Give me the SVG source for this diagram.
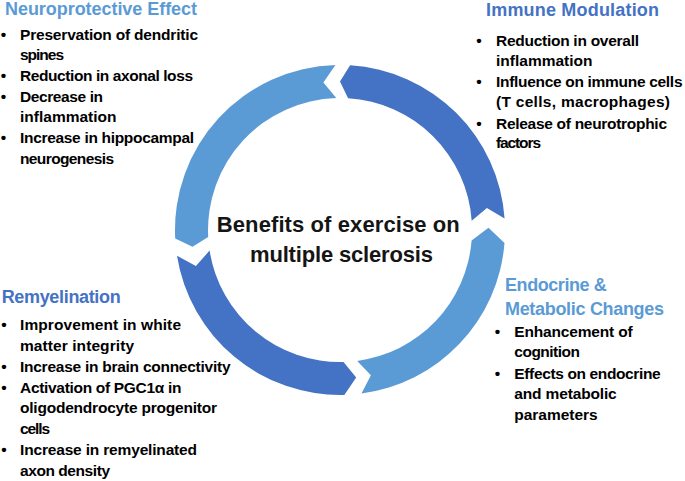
<svg xmlns="http://www.w3.org/2000/svg" width="685" height="481" viewBox="0 0 685 481">
<style>
  .dark { fill: #4472C4; }
  .light { fill: #5B9BD5; }
  .hd { font-family: "Liberation Sans", Arial, sans-serif; font-weight: bold; font-size: 18px; }
  .hl { fill: #5B9BD5; }
  .hk { fill: #4472C4; }
  .bt { font-family: "Liberation Sans", Arial, sans-serif; font-weight: bold; font-size: 15.5px; fill: #000; }
  .ct { font-family: "Liberation Sans", Arial, sans-serif; font-weight: bold; font-size: 22px; fill: #151515; text-anchor: middle; }
</style>
<rect width="685" height="481" fill="#fff"/>
<g id="connectors">
  <path class="dark" d="M504.6,218.5 A165,165 0 0 0 350.1,65.3 L340,81.5 L348.1,98.2 A132,132 0 0 1 471.7,220.8 L486.9,208.1 Z"/>
  <path class="light" d="M361.5,393.6 A165,165 0 0 0 504.5,243.0 L488.5,227.7 L471.6,240.4 A132,132 0 0 1 357.2,360.9 L370.9,375.3 Z"/>
  <path class="dark" d="M177.0,255.8 A165,165 0 0 0 344.3,394.9 L356.2,377.6 L343.5,362.0 A132,132 0 0 1 209.6,250.6 L195.9,265.9 Z"/>
  <path class="light" d="M335.4,65.1 A165,165 0 0 0 175.2,238.6 L192.5,246.8 L208.2,236.9 A132,132 0 0 1 336.3,98.1 L323.4,82.4 Z"/>
</g>
<g id="center">
  <text class="ct" x="338.3" y="232" textLength="243">Benefits of exercise on</text>
  <text class="ct" x="341.5" y="262" textLength="183">multiple sclerosis</text>
</g>
<g id="neuroprotective">
  <text class="hd hl" x="5" y="14.8" font-size="17.5" textLength="192">Neuroprotective Effect</text>
  <text class="bt" x="0.8" y="39.5">•</text>
  <text class="bt" x="20" y="39.5" textLength="178">Preservation of dendritic</text>
  <text class="bt" x="20" y="60" textLength="44">spines</text>
  <text class="bt" x="0.8" y="81">•</text>
  <text class="bt" x="20" y="81" textLength="173">Reduction in axonal loss</text>
  <text class="bt" x="0.8" y="101.5">•</text>
  <text class="bt" x="20" y="101.5" textLength="83">Decrease in</text>
  <text class="bt" x="20" y="122" textLength="96.5">inflammation</text>
  <text class="bt" x="0.8" y="143">•</text>
  <text class="bt" x="20" y="143" textLength="174">Increase in hippocampal</text>
  <text class="bt" x="20" y="163.5" textLength="94">neurogenesis</text>
</g>
<g id="immune">
  <text class="hd hk" x="486" y="15.7" textLength="173">Immune Modulation</text>
  <text class="bt" x="476.3" y="46">•</text>
  <text class="bt" x="496" y="46" textLength="143">Reduction in overall</text>
  <text class="bt" x="496" y="65.5" textLength="96.5">inflammation</text>
  <text class="bt" x="476.3" y="87">•</text>
  <text class="bt" x="496" y="87" textLength="186.5">Influence on immune cells</text>
  <text class="bt" x="496" y="107" textLength="174">(T cells, macrophages)</text>
  <text class="bt" x="476.3" y="128.5">•</text>
  <text class="bt" x="496" y="128.5" textLength="171">Release of neurotrophic</text>
  <text class="bt" x="496" y="148" textLength="45">factors</text>
</g>
<g id="remyelination">
  <text class="hd hk" x="1.7" y="303.3" textLength="119">Remyelination</text>
  <text class="bt" x="1.3" y="330">•</text>
  <text class="bt" x="20" y="330" textLength="161">Improvement in white</text>
  <text class="bt" x="20" y="350.5" textLength="114">matter integrity</text>
  <text class="bt" x="1.3" y="371.5">•</text>
  <text class="bt" x="20" y="371.5" textLength="210.5">Increase in brain connectivity</text>
  <text class="bt" x="1.3" y="392.5">•</text>
  <text class="bt" x="20" y="392.5" textLength="161.5">Activation of PGC1α in</text>
  <text class="bt" x="20" y="413" textLength="197">oligodendrocyte progenitor</text>
  <text class="bt" x="20" y="434" textLength="30">cells</text>
  <text class="bt" x="1.3" y="455">•</text>
  <text class="bt" x="20" y="455" textLength="177">Increase in remyelinated</text>
  <text class="bt" x="20" y="475.5" textLength="90">axon density</text>
</g>
<g id="endocrine">
  <text class="hd hl" x="505" y="291" textLength="101.7">Endocrine &amp;</text>
  <text class="hd hl" x="505" y="315" textLength="159">Metabolic Changes</text>
  <text class="bt" x="494.8" y="337">•</text>
  <text class="bt" x="514.3" y="337" textLength="118.4">Enhancement of</text>
  <text class="bt" x="514.3" y="357" textLength="65.7">cognition</text>
  <text class="bt" x="494.8" y="378.5">•</text>
  <text class="bt" x="514.3" y="378.5" textLength="146.4">Effects on endocrine</text>
  <text class="bt" x="514.3" y="399" textLength="102.4">and metabolic</text>
  <text class="bt" x="514.3" y="419.5" textLength="83.4">parameters</text>
</g>
</svg>
